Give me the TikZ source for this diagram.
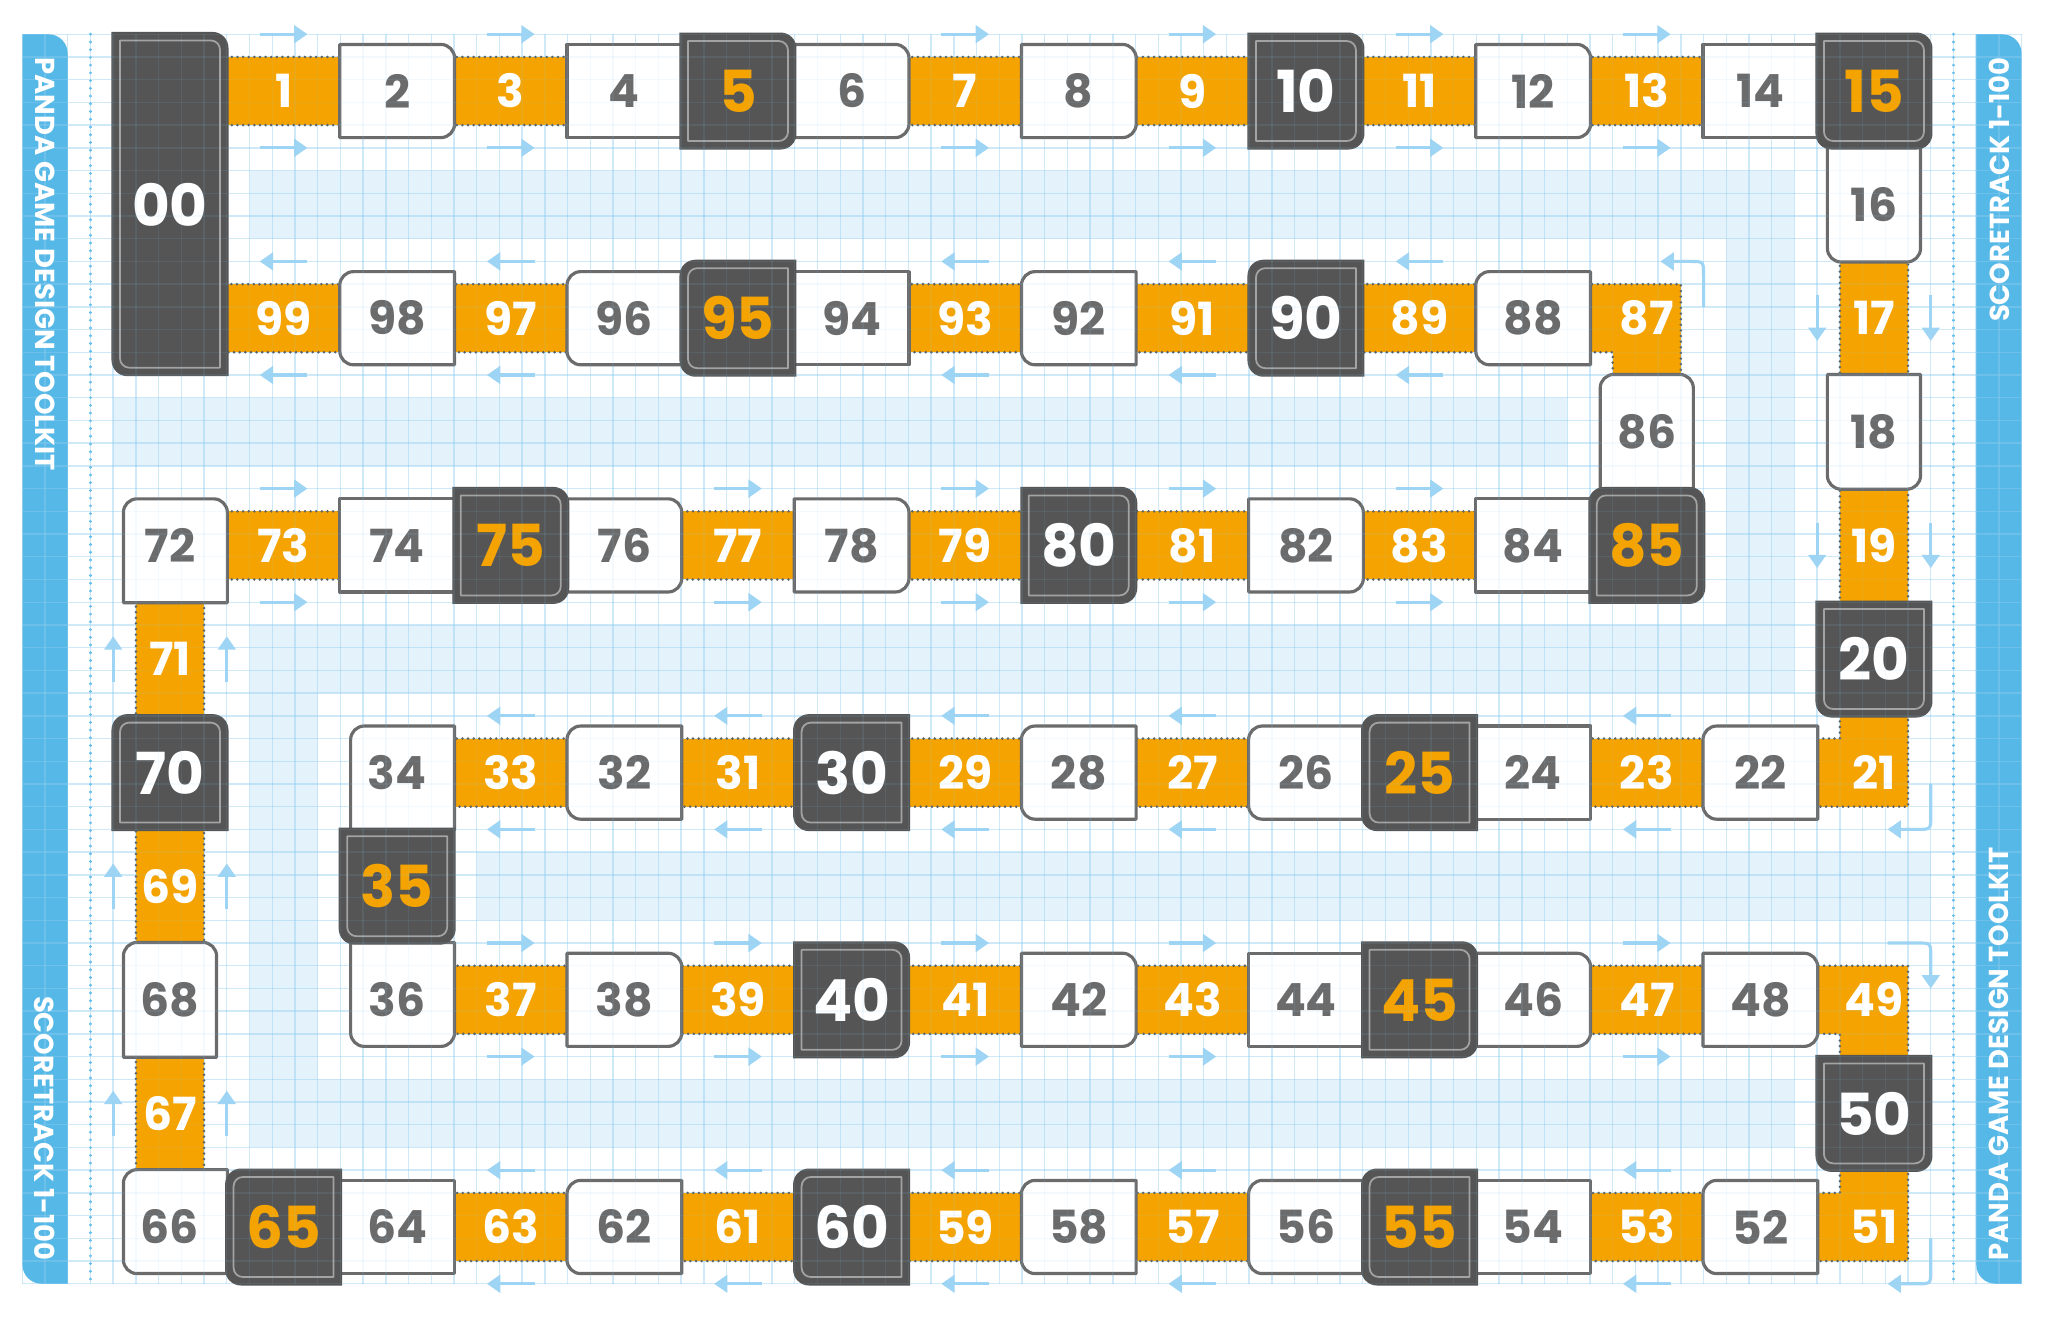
\documentclass[tikz,border=0pt]{standalone}
\usepackage{fontspec}
\setmainfont{Poppins}
\usetikzlibrary{calc}
\usetikzlibrary{arrows.meta}
\definecolor{trackorange}{HTML}{F5A300}
\definecolor{tiledark}{HTML}{555555}
\definecolor{tilegray}{HTML}{6B6B6B}
\definecolor{tileline}{HTML}{A3A3A3}
\definecolor{dotgray}{HTML}{5A5A5A}
\definecolor{barblue}{HTML}{56B8E6}
\definecolor{bandblue}{HTML}{E4F2FC}
\definecolor{gridblue}{HTML}{8FCDF2}
\definecolor{arrowblue}{HTML}{9FD5F4}
\tikzstyle{wt}=[draw=tilegray, fill=white, line width=0.9pt, line join=round]
\tikzstyle{dk}=[fill=tiledark]
\tikzstyle{dkin}=[draw=tileline, line width=0.5pt, line join=round]
\tikzstyle{num}=[font=\bfseries\fontsize{13}{13}\selectfont, text=tilegray, inner sep=0pt]
\tikzstyle{onum}=[num, text=white]
\tikzstyle{bnum}=[font=\bfseries\fontsize{16.5}{16.5}\selectfont, inner sep=0pt]
\tikzstyle{arr}=[draw=arrowblue, line width=0.9pt, -{Triangle[length=3.8pt,width=5pt]}]
\tikzstyle{dotedge}=[draw=dotgray, line width=0.8pt, line cap=round, dash pattern=on 0pt off 1.6pt]
\tikzstyle{sideline}=[draw=barblue, line width=0.9pt, line cap=round, dash pattern=on 0pt off 2.2pt]
\tikzstyle{gridline}=[draw=gridblue, line width=0.4pt, draw opacity=0.35]
\tikzstyle{gridfaint}=[draw=gridblue, line width=0.4pt, draw opacity=0.1]
\tikzstyle{bartext}=[font=\bfseries\fontsize{7.8}{7.8}\selectfont, text=white, inner sep=0pt]
% x, y, half width, half height, corners TL TR BR BL, style
\newcommand\trktile[9]{%
  \path[#9] (#1,#2-#4) -- (#1+#3-#6,#2-#4)
    .. controls (#1+#3-0.45*#6,#2-#4) and (#1+#3,#2-#4+0.45*#6) .. (#1+#3,#2-#4+#6)
    -- (#1+#3,#2+#4-#7)
    .. controls (#1+#3,#2+#4-0.45*#7) and (#1+#3-0.45*#7,#2+#4) .. (#1+#3-#7,#2+#4)
    -- (#1-#3+#8,#2+#4)
    .. controls (#1-#3+0.45*#8,#2+#4) and (#1-#3,#2+#4-0.45*#8) .. (#1-#3,#2+#4-#8)
    -- (#1-#3,#2-#4+#5)
    .. controls (#1-#3,#2-#4+0.45*#5) and (#1-#3+0.45*#5,#2-#4) .. (#1-#3+#5,#2-#4) -- cycle;}

\begin{document}
\begin{tikzpicture}[x=1.136cm, y=-1.136cm]
\useasboundingbox (-1.4965,-0.8011) rectangle (16.532,10.810);
\fill[white] (-1.4965,-0.8011) rectangle (16.532,10.810);

\fill[bandblue] (0.7,0.7) rectangle (14.3,1.3) (13.7,0.7) rectangle (14.3,5.3)
  (0.7,4.7) rectangle (14.3,5.3) (-0.5,2.7) rectangle (12.3,3.3)
  (0.7,4.7) rectangle (1.3,9.3) (0.7,8.7) rectangle (14.3,9.3) (2.7,6.7) rectangle (15.5,7.3);

\trktile{-1.1}{5}{0.2}{5.5}{0}{0.17}{0}{0.17}{fill=barblue}
\trktile{16.1}{5}{0.2}{5.5}{0}{0.17}{0}{0.17}{fill=barblue}
\draw[sideline] (-0.7,-0.5) -- (-0.7,10.5);
\draw[sideline] (15.7,-0.5) -- (15.7,10.5);

\foreach \i in {0,...,88}
  \draw[gridline] (-1.3+0.2*\i,-0.5) -- (-1.3+0.2*\i,10.5);
\foreach \j in {0,...,55}
  \draw[gridline] (-1.3,-0.5+0.2*\j) -- (16.3,-0.5+0.2*\j);

\draw[trackorange, line width=0.6816cm, line join=miter] (0,0) -- (15,0) -- (15,6) -- (2,6)
  -- (2,8) -- (15,8) -- (15,10) -- (0,10) -- (0,4) -- (13,4) -- (13,2) -- (0,2);
\draw[dotedge] (0,-0.3) -- (15.3,-0.3) -- (15.3,6.3) -- (2.3,6.3) -- (2.3,7.7) -- (15.3,7.7)
  -- (15.3,10.3) -- (-0.3,10.3) -- (-0.3,3.7) -- (12.7,3.7) -- (12.7,2.3) -- (0,2.3);
\draw[dotedge] (0,0.3) -- (14.7,0.3) -- (14.7,5.7) -- (1.7,5.7) -- (1.7,8.3) -- (14.7,8.3)
  -- (14.7,9.7) -- (0.3,9.7) -- (0.3,4.3) -- (13.3,4.3) -- (13.3,1.7) -- (0,1.7);

\foreach \n/\x/\y/\a/\b/\c/\d in {2/2/0/0/1/1/0, 4/4/0/0/0/0/0, 6/6/0/0/1/1/0, 8/8/0/0/1/1/0,
  12/12/0/0/1/1/0, 14/14/0/0/0/0/0, 22/14/6/1/0/0/1, 24/12/6/0/0/0/0, 26/10/6/1/0/0/1,
  28/8/6/1/0/0/1, 32/4/6/1/0/0/1, 38/4/8/0/1/1/0, 42/8/8/0/1/1/0, 44/10/8/0/0/0/0,
  46/12/8/0/1/1/0, 48/14/8/0/1/1/0, 52/14/10/1/0/0/1, 54/12/10/0/0/0/0, 56/10/10/1/0/0/1,
  58/8/10/1/0/0/1, 62/4/10/1/0/0/1, 64/2/10/0/0/0/0, 74/2/4/0/0/0/0, 76/4/4/0/1/1/0,
  78/6/4/0/1/1/0, 82/10/4/0/1/1/0, 84/12/4/0/0/0/0, 88/12/2/1/0/0/1, 92/8/2/1/0/0/1,
  94/6/2/0/0/0/0, 96/4/2/1/0/0/1, 98/2/2/1/0/0/1}{
  \trktile{\x}{\y}{0.505}{0.41}{\a*0.12}{\b*0.12}{\c*0.12}{\d*0.12}{wt}
  \node[num] (n\n) at (\x,\y) {\n};
}
\foreach \n/\x/\y/\a/\b/\c/\d in {16/15/1/0/0/1/1, 18/15/3/0/0/1/1, 68/0/8/1/1/0/0, 86/13/3/1/1/0/0}{
  \trktile{\x}{\y}{0.41}{0.505}{\a*0.12}{\b*0.12}{\c*0.12}{\d*0.12}{wt}
  \node[num] (n\n) at (\x,\y) {\n};
}
\foreach \n/\x/\y/\s/\t/\a/\b/\c/\d in {34/2/6/0.0475/0.0475/1/0/0/0, 36/2/8/0.0475/-0.0475/0/0/1/1,
  66/0/10/0.0475/-0.0475/1/0/0/1, 72/0/4/0.0475/0.0475/1/1/0/0}{
  \trktile{\x+\s}{\y+\t}{0.4575}{0.4575}{\a*0.12}{\b*0.12}{\c*0.12}{\d*0.12}{wt}
  \node[num] (n\n) at (\x,\y) {\n};
}

\trktile{0}{0.995}{0.515}{1.515}{0}{0.14}{0}{0.14}{dk}
\trktile{0}{0.995}{0.44}{1.44}{0}{0.08}{0}{0.08}{dkin}
\node[bnum, text=white] (n0) at (0,1) {00};
\foreach \n/\x/\y/\a/\b/\c/\d/\tc in {5/5/0/0/1/1/0/trackorange, 10/10/0/0/1/1/0/white,
  15/15/0/0/1/1/1/trackorange, 20/15/5/0/0/1/1/white, 25/11/6/1/0/0/1/trackorange,
  30/6/6/1/0/0/1/white, 35/2/7/0/0/1/1/trackorange, 40/6/8/0/1/1/0/white,
  45/11/8/0/1/1/0/trackorange, 50/15/9/0/0/1/1/white, 55/11/10/1/0/0/1/trackorange,
  60/6/10/1/0/0/1/white, 65/1/10/1/0/0/1/trackorange, 70/0/6/1/1/0/0/white,
  75/3/4/0/1/1/0/trackorange, 80/8/4/0/1/1/0/white, 85/13/4/1/1/1/0/trackorange,
  90/10/2/1/0/0/1/white, 95/5/2/1/0/0/1/trackorange}{
  \trktile{\x}{\y}{0.515}{0.515}{\a*0.14}{\b*0.14}{\c*0.14}{\d*0.14}{dk}
  \trktile{\x}{\y}{0.44}{0.44}{\a*0.08}{\b*0.08}{\c*0.08}{\d*0.08}{dkin}
  \node[bnum, text=\tc] (n\n) at (\x,\y) {\n};
}

\foreach \n/\x/\y in {1/1/0, 3/3/0, 7/7/0, 9/9/0, 11/11/0, 13/13/0, 17/15/2, 19/15/4,
  21/15/6, 23/13/6, 27/9/6, 29/7/6, 31/5/6, 33/3/6, 37/3/8, 39/5/8, 41/7/8, 43/9/8,
  47/13/8, 49/15/8, 51/15/10, 53/13/10, 57/9/10, 59/7/10, 61/5/10, 63/3/10, 67/0/9,
  69/0/7, 71/0/5, 73/1/4, 77/5/4, 79/7/4, 81/9/4, 83/11/4, 87/13/2, 89/11/2, 91/9/2,
  93/7/2, 97/3/2, 99/1/2}
  \node[onum] (n\n) at (\x,\y) {\n};

\foreach \c/\r/\d in {1/0/1, 3/0/1, 7/0/1, 9/0/1, 11/0/1, 13/0/1, 1/4/1, 5/4/1, 7/4/1,
  9/4/1, 11/4/1, 3/8/1, 5/8/1, 7/8/1, 9/8/1, 13/8/1, 1/2/-1, 3/2/-1, 7/2/-1, 9/2/-1,
  11/2/-1, 3/6/-1, 5/6/-1, 7/6/-1, 9/6/-1, 13/6/-1, 3/10/-1, 5/10/-1, 7/10/-1, 9/10/-1, 13/10/-1}{
  \draw[arr] ({\c-0.21*\d},\r-0.5) -- ({\c+0.21*\d},\r-0.5);
  \draw[arr] ({\c-0.21*\d},\r+0.5) -- ({\c+0.21*\d},\r+0.5);
}
\foreach \c/\r/\d in {15/2/1, 15/4/1, 0/5/-1, 0/7/-1, 0/9/-1}{
  \draw[arr] (\c-0.5,{\r-0.2*\d}) -- (\c-0.5,{\r+0.2*\d});
  \draw[arr] (\c+0.5,{\r-0.2*\d}) -- (\c+0.5,{\r+0.2*\d});
}
\draw[arr] (13.5,1.9) -- (13.5,1.62) .. controls (13.5,1.5) .. (13.38,1.5) -- (13.12,1.5);
\draw[arr] (15.5,6.1) -- (15.5,6.38) .. controls (15.5,6.5) .. (15.38,6.5) -- (15.12,6.5);
\draw[arr] (15.12,7.5) -- (15.38,7.5) .. controls (15.5,7.5) .. (15.5,7.62) -- (15.5,7.9);
\draw[arr] (15.5,10.1) -- (15.5,10.38) .. controls (15.5,10.5) .. (15.38,10.5) -- (15.12,10.5);

\foreach \i in {0,...,88}
  \draw[gridfaint] (-1.3+0.2*\i,-0.5) -- (-1.3+0.2*\i,10.5);
\foreach \j in {0,...,55}
  \draw[gridfaint] (-1.3,-0.5+0.2*\j) -- (16.3,-0.5+0.2*\j);

\node[bartext, rotate=-90, anchor=west] (lefttop) at (-1.1,-0.3) {PANDA GAME DESIGN TOOLKIT};
\node[bartext, rotate=-90, anchor=east] (leftbot) at (-1.1,10.3) {SCORETRACK 1-100};
\node[bartext, rotate=90, anchor=east] (righttop) at (16.1,-0.3) {SCORETRACK 1-100};
\node[bartext, rotate=90, anchor=west] (rightbot) at (16.1,10.3) {PANDA GAME DESIGN TOOLKIT};
\end{tikzpicture}
\end{document}
